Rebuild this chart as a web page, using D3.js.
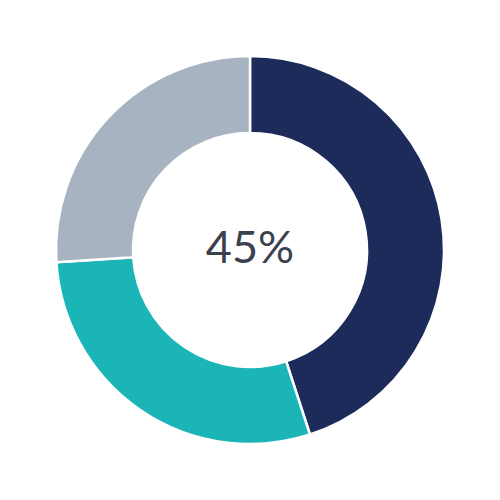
<!DOCTYPE html>
<html><head><meta charset="utf-8">
<script src="https://cdn.jsdelivr.net/npm/d3@7"></script>
<style>html,body{margin:0;padding:0;background:#fff;}</style>
</head><body>
<svg id="c" width="500" height="500"></svg>
<script>
const categories = ["A", "B", "C"];
const values = [45, 29, 26];
const colors = ["#1c2b5a", "#1bb5b8", "#a8b3c2"];
const centerLabel = "45%";

const svg = d3.select("#c");
const g = svg.append("g").attr("transform", "translate(250,250)");
const pie = d3.pie().sort(null).value(d => d)(values);
const arc = d3.arc().innerRadius(117).outerRadius(194);
g.selectAll("path").data(pie).enter().append("path")
  .attr("d", arc)
  .attr("fill", (d, i) => colors[i])
  .attr("stroke", "#fff")
  .attr("stroke-width", 2.5);
g.append("text")
  .attr("text-anchor", "middle")
  .attr("y", 13)
  .attr("font-family", "Lato, sans-serif")
  .attr("font-size", 45)
  .attr("fill", "#3b414d")
  .text(centerLabel);
</script>
</body></html>
